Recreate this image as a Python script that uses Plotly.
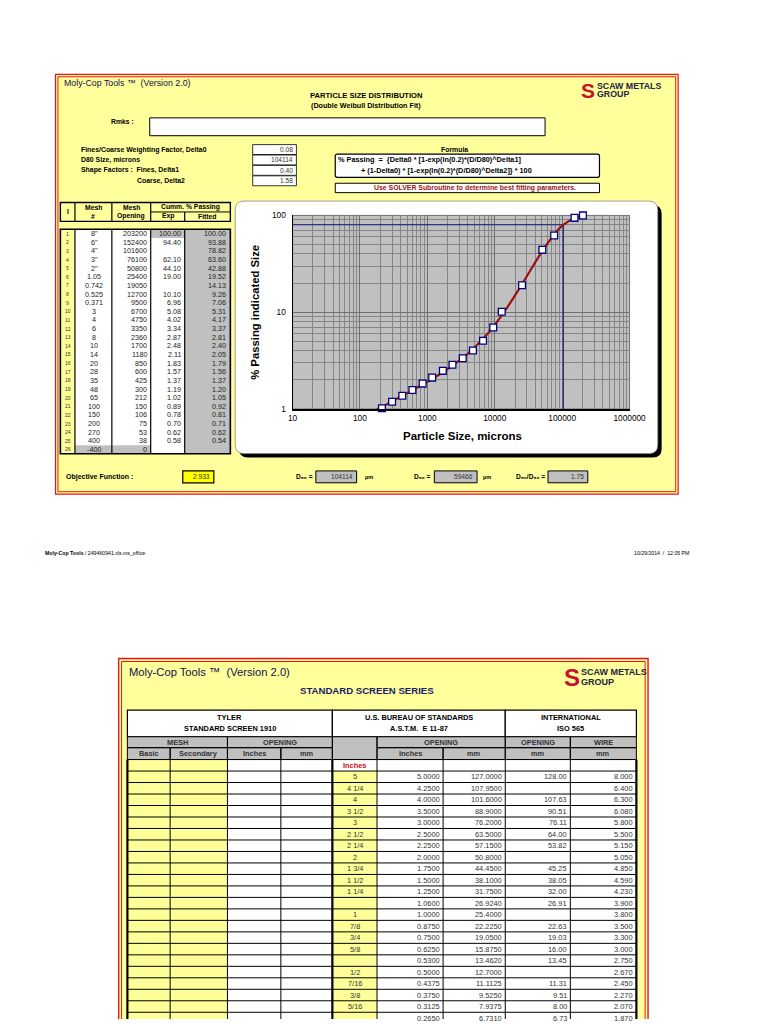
import plotly.graph_objects as go

W, H = 768, 1024
FONT = "Liberation Sans, Arial, sans-serif"
PANEL = "#FFFF9C"
YEL = "#FFFF99"
GRAY = "#C0C0C0"
RED = "#E8141B"
NAVY = "#000080"

# ---------------- data: particle size distribution ----------------
row_index = list(range(1, 27))
mesh_no = ['8"', '6"', '4"', '3"', '2"', '1.05', '0.742', '0.525', '0.371', '3', '4', '6', '8',
           '10', '14', '20', '28', '35', '48', '65', '100', '150', '200', '270', '400', '-400']
mesh_open = [203200, 152400, 101600, 76100, 50800, 25400, 19050, 12700, 9500, 6700, 4750, 3350,
             2360, 1700, 1180, 850, 600, 425, 300, 212, 150, 106, 75, 53, 38, 0]
exp_pass = [100.00, 94.40, None, 62.10, 44.10, 19.00, None, 10.10, 6.96, 5.08, 4.02, 3.34, 2.87,
            2.48, 2.11, 1.83, 1.57, 1.37, 1.19, 1.02, 0.89, 0.78, 0.70, 0.62, 0.58, None]
fitted_pass = [100.00, 93.88, 78.82, 63.60, 42.88, 19.52, 14.13, 9.26, 7.06, 5.31, 4.17, 3.37, 2.81,
               2.40, 2.05, 1.79, 1.56, 1.37, 1.20, 1.05, 0.92, 0.81, 0.71, 0.62, 0.54, None]

param_labels = ["Fines/Coarse Weighting Factor, Delta0", "D80 Size, microns",
                "Shape Factors :  Fines, Delta1", "Coarse, Delta2"]
param_values = ["0.08", "104114", "0.40", "1.58"]
delta0, d80, delta1, delta2 = 0.08, 104114, 0.40, 1.58
objective = "2.933"
d50 = 59466
d80_d50 = "1.75"

x_ticks = [10, 100, 1000, 10000, 100000, 1000000]
y_ticks = [1, 10, 100]

# ---------------- data: standard screen series ----------------
us_label = ["5", "4 1/4", "4", "3 1/2", "3", "2 1/2", "2 1/4", "2", "1 3/4", "1 1/2", "1 1/4", "",
            "1", "7/8", "3/4", "5/8", "", "1/2", "7/16", "3/8", "5/16", ""]
us_inches = ["5.0000", "4.2500", "4.0000", "3.5000", "3.0000", "2.5000", "2.2500", "2.0000", "1.7500",
             "1.5000", "1.2500", "1.0600", "1.0000", "0.8750", "0.7500", "0.6250", "0.5300", "0.5000",
             "0.4375", "0.3750", "0.3125", "0.2650"]
us_mm = ["127.0000", "107.9500", "101.6000", "88.9000", "76.2000", "63.5000", "57.1500", "50.8000",
         "44.4500", "38.1000", "31.7500", "26.9240", "25.4000", "22.2250", "19.0500", "15.8750",
         "13.4620", "12.7000", "11.1125", "9.5250", "7.9375", "6.7310"]
iso_open = ["128.00", "", "107.63", "90.51", "76.11", "64.00", "53.82", "", "45.25", "38.05", "32.00",
            "26.91", "", "22.63", "19.03", "16.00", "13.45", "", "11.31", "9.51", "8.00", "6.73"]
iso_wire = ["8.000", "6.400", "6.300", "6.080", "5.800", "5.500", "5.150", "5.050", "4.850", "4.590",
            "4.230", "3.900", "3.800", "3.500", "3.300", "3.000", "2.750", "2.670", "2.450", "2.270",
            "2.070", "1.870"]

shapes = []
annots = []


def rect(x0, y0, x1, y1, fill=None, line=None, lw=1.0):
    shapes.append(dict(type="rect", xref="x", yref="y", x0=x0, y0=y0, x1=x1, y1=y1, layer="below",
                       fillcolor=fill if fill else "rgba(0,0,0,0)",
                       line=dict(color=line if line else "rgba(0,0,0,0)", width=lw if line else 0)))


def hline(x0, x1, y, color="black", lw=1.0):
    shapes.append(dict(type="line", xref="x", yref="y", x0=x0, x1=x1, y0=y, y1=y, layer="below",
                       line=dict(color=color, width=lw)))


def vline(x, y0, y1, color="black", lw=1.0):
    shapes.append(dict(type="line", xref="x", yref="y", x0=x, x1=x, y0=y0, y1=y1, layer="below",
                       line=dict(color=color, width=lw)))


def rrect(x0, y0, x1, y1, r, fill, line=None, lw=1.0):
    p = (f"M {x0+r},{y0} L {x1-r},{y0} Q {x1},{y0} {x1},{y0+r} L {x1},{y1-r} Q {x1},{y1} {x1-r},{y1} "
         f"L {x0+r},{y1} Q {x0},{y1} {x0},{y1-r} L {x0},{y0+r} Q {x0},{y0} {x0+r},{y0} Z")
    shapes.append(dict(type="path", xref="x", yref="y", path=p, layer="below", fillcolor=fill,
                       line=dict(color=line if line else "rgba(0,0,0,0)", width=lw if line else 0)))


def text(x, y, s, size=7.0, color="black", anchor="center", bold=False, angle=0, family=FONT):
    if s is None or str(s) == "":
        return
    annots.append(dict(x=x, y=y, xref="x", yref="y", text=(f"<b>{s}</b>" if bold else s),
                       showarrow=False, xanchor=anchor, yanchor="middle", textangle=angle,
                       font=dict(size=size, color=color, family=family), borderpad=0))


# ======================= TOP PANEL =======================
rect(52, 70, 693, 494, fill=PANEL, line=RED, lw=1.2)
rect(54.5, 72.5, 690.5, 491.5, line=RED, lw=1.0)

text(60, 79, "Moly-Cop Tools \u2122  (Version 2.0)", size=8.8, color="#10104A", anchor="left")
text(372, 91, "PARTICLE SIZE DISTRIBUTION", size=7.6, bold=True)
text(372, 101, "(Double Weibull Distribution Fit)", size=7.2, bold=True)
text(600, 86, "S", size=21, color="#C8102E", bold=True)
text(608, 81.5, "SCAW METALS", size=8.8, color="#222244", bold=True, anchor="left")
text(608, 90, "GROUP", size=8.8, color="#222244", bold=True, anchor="left")

text(134, 118, "Rmks :", size=6.8, bold=True, anchor="right")
rect(149, 114, 556, 132, fill="white", line="black", lw=1)

p_y = [146, 156.5, 167, 177.5]
p_x = [77, 77, 77, 135]
for lab, val, yy, xx in zip(param_labels, param_values, p_y, p_x):
    text(xx, yy, lab, size=6.9, bold=True, anchor="left")
    rect(255, yy - 5, 300, yy + 5, fill="white", line="black", lw=0.8)
    text(298, yy, val, size=6.6, color="#333333", anchor="right")

text(463, 146, "Formula", size=6.9, bold=True)
rrect(340, 150.5, 612, 174, 2, "white", "black", 1.2)
text(342, 156.5, "% Passing  =  {Delta0 * [1-exp(ln(0.2)*(D/D80)^Delta1]", size=7.3, bold=True, anchor="left")
text(365, 167.5, "+ (1-Delta0) * [1-exp(ln(0.2)*(D/D80)^Delta2]} * 100", size=7.3, bold=True, anchor="left")
rect(340, 180, 612, 189.5, fill="white", line="black", lw=1)
text(484, 184.8, "Use SOLVER Subroutine to determine best fitting parameters.", size=6.9, color="#9A1414", bold=True)

# ---- left data table ----
LT = [57, 72, 110, 150, 185, 232]
HT0, HT1 = 199.5, 218.5
DT0, PITCH = 226.5, 8.72
n = len(row_index)
DT1 = DT0 + n * PITCH
# header
rect(LT[0], HT0, LT[-1], HT1, fill=PANEL, line="black", lw=1.4)
for xb in LT[1:-2]:
    vline(xb, HT0, HT1, lw=1.2)
hm = (HT0 + HT1) / 2
hline(LT[3], LT[5], hm, lw=1.0)
vline(LT[4], hm, HT1, lw=1.2)
text((LT[0] + LT[1]) / 2, hm, "I", size=6.6, bold=True)
text((LT[1] + LT[2]) / 2, hm - 4.6, "Mesh", size=6.8, bold=True)
text((LT[1] + LT[2]) / 2, hm + 4.3, "#", size=6.8, bold=True)
text((LT[2] + LT[3]) / 2, hm - 4.6, "Mesh", size=6.8, bold=True)
text((LT[2] + LT[3]) / 2, hm + 4.3, "Opening", size=6.8, bold=True)
text((LT[3] + LT[5]) / 2, hm - 4.6, "Cumm. % Passing", size=6.8, bold=True)
text((LT[3] + LT[4]) / 2, hm + 4.3, "Exp", size=6.8, bold=True)
text((LT[4] + LT[5]) / 2, hm + 4.3, "Fitted", size=6.8, bold=True)
# body fills
rect(LT[0], DT0, LT[1], DT1, fill=YEL)
rect(LT[1], DT0, LT[4], DT1, fill="white")
rect(LT[4], DT0, LT[5], DT1, fill=GRAY)
for i in range(n):
    y0 = DT0 + i * PITCH
    if i == 0 and exp_pass[i] is not None:
        rect(LT[3], y0, LT[4], y0 + PITCH, fill=GRAY)
    if mesh_open[i] == 0:
        rect(LT[1], y0, LT[3], y0 + PITCH, fill=GRAY)
for xb in LT[1:-1]:
    vline(xb, DT0, DT1, lw=1.2)
rect(LT[0], DT0, LT[-1], DT1, line="black", lw=1.6)
for i in range(n):
    yc = DT0 + (i + 0.5) * PITCH
    text((LT[0] + LT[1]) / 2, yc, str(row_index[i]), size=5.0, color="#333333")
    text((LT[1] + LT[2]) / 2 + 1, yc, mesh_no[i], size=7.2, color="#222222")
    text(LT[3] - 3, yc, str(mesh_open[i]), size=7.2, color="#222222", anchor="right")
    if exp_pass[i] is not None:
        text(LT[4] - 3, yc, f"{exp_pass[i]:.2f}", size=7.2, color="#222222", anchor="right")
    if fitted_pass[i] is not None:
        text(LT[5] - 3, yc, f"{fitted_pass[i]:.2f}", size=7.2, color="#222222", anchor="right")

# ---- objective row ----
OY = 476.5
text(62, OY, "Objective Function :", size=7.0, bold=True, anchor="left")
rect(183, OY - 6, 215, OY + 6, fill="#FFFF00", line="black", lw=1.2)
text(212, OY, objective, size=6.6, color="#333333", anchor="right")
text(318, OY, "D\u2088\u2080 =", size=6.6, bold=True, anchor="right")
rect(320, OY - 6, 362, OY + 6, fill=GRAY, line="black", lw=1)
text(359, OY, str(d80), size=6.6, color="#333333", anchor="right")
text(375, OY, "\u00b5m", size=5.6, bold=True)
text(440, OY, "D\u2085\u2080 =", size=6.6, bold=True, anchor="right")
rect(442, OY - 6, 486, OY + 6, fill=GRAY, line="black", lw=1)
text(483, OY, str(d50), size=6.6, color="#333333", anchor="right")
text(496, OY, "\u00b5m", size=5.6, bold=True)
text(557, OY, "D\u2088\u2080/D\u2085\u2080 =", size=6.6, bold=True, anchor="right")
rect(559, OY - 6, 600, OY + 6, fill=GRAY, line="black", lw=1)
text(597, OY, d80_d50, size=6.6, color="#333333", anchor="right")

# ---- chart frame ----
rrect(241, 202, 676, 457, 9, "black")
rrect(237, 198, 672, 453, 9, "white", "#888888", 0.8)
PX0, PX1, PY0, PY1 = 296, 643, 212.5, 408
rect(PX0, PY0, PX1, PY1, fill=GRAY, line="#555555", lw=0.8)
text(258, (PY0 + PY1) / 2, "% Passing indicated Size", size=11.3, bold=True, angle=-90)
text((PX0 + PX1) / 2 + 2, 435, "Particle Size, microns", size=11.5, bold=True)

# ---- footer ----
text(40, 553, "<b>Moly-Cop Tools</b> / 249460941.xls.ms_office", size=5.2, anchor="left")
text(705, 553, "10/29/2014  /  12:05 PM", size=5.2, anchor="right")

# ======================= BOTTOM PANEL =======================
rect(117, 660, 662, 1040, fill=PANEL, line=RED, lw=1.4)
rect(120, 663, 659, 1040, line=RED, lw=1.0)
text(127, 674, "Moly-Cop Tools \u2122  (Version 2.0)", size=11.2, color="#10104A", anchor="left")
text(584, 679, "S", size=24, color="#C8102E", bold=True)
text(592, 673.5, "SCAW METALS", size=9.0, color="#222244", bold=True, anchor="left")
text(592, 684, "GROUP", size=9.0, color="#222244", bold=True, anchor="left")
text(373, 692.5, "STANDARD SCREEN SERIES", size=9.6, color="#1B1B6B", bold=True)

BC = [126, 170, 229, 284, 337, 383, 451, 515, 582, 650]
R0, R1, R2, R3 = 712, 739, 750, 762
BP = 11.6
# header row 1
rect(BC[0], R0, BC[4], R1, fill="white", line="black", lw=1.2)
rect(BC[4], R0, BC[7], R1, fill="white", line="black", lw=1.2)
rect(BC[7], R0, BC[9], R1, fill="white", line="black", lw=1.2)
HS = 7.4
text((BC[0] + BC[4]) / 2, 719.5, "TYLER", size=HS, bold=True)
text((BC[0] + BC[4]) / 2, 731, "STANDARD SCREEN 1910", size=HS, bold=True)
text((BC[4] + BC[7]) / 2, 719.5, "U.S. BUREAU OF STANDARDS", size=HS, bold=True)
text((BC[4] + BC[7]) / 2, 731, "A.S.T.M.  E 11-87", size=HS, bold=True)
text((BC[7] + BC[9]) / 2, 719.5, "INTERNATIONAL", size=HS, bold=True)
text((BC[7] + BC[9]) / 2, 731, "ISO 565", size=HS, bold=True)
# header rows 2-3
rect(BC[0], R1, BC[9], R3, fill=GRAY)
for a, b in [(0, 2), (2, 4), (5, 7), (7, 8), (8, 9)]:
    rect(BC[a], R1, BC[b], R2, line="black", lw=1)
rect(BC[4], R1, BC[5], R3, line="black", lw=1)
for k in [0, 1, 2, 3, 5, 6, 7, 8]:
    rect(BC[k], R2, BC[k + 1], R3, line="black", lw=1)
h2 = (R1 + R2) / 2
h3 = (R2 + R3) / 2
text((BC[0] + BC[2]) / 2, h2, "MESH", size=HS, color="#333333", bold=True)
text((BC[2] + BC[4]) / 2, h2, "OPENING", size=HS, color="#333333", bold=True)
text((BC[5] + BC[7]) / 2, h2, "OPENING", size=HS, color="#333333", bold=True)
text((BC[7] + BC[8]) / 2, h2, "OPENING", size=HS, color="#333333", bold=True)
text((BC[8] + BC[9]) / 2, h2, "WIRE", size=HS, color="#333333", bold=True)
for k, s in zip([0, 1, 2, 3, 5, 6, 7, 8],
                ["Basic", "Secondary", "Inches", "mm", "Inches", "mm", "mm", "mm"]):
    text((BC[k] + BC[k + 1]) / 2, h3, s, size=HS, color="#333333", bold=True)

# data rows (first row = "Inches" caption row)
nrows = len(us_label) + 1
BOT = R3 + nrows * BP
rect(BC[0], R3, BC[2], BOT, fill=YEL)
rect(BC[2], R3, BC[4], BOT, fill="white")
rect(BC[4], R3 + BP, BC[5], BOT, fill=YEL)
rect(BC[4], R3, BC[5], R3 + BP, fill="white")
rect(BC[5], R3, BC[9], BOT, fill="white")
for r in range(nrows + 1):
    hline(BC[0], BC[9], R3 + r * BP, lw=1.0)
for k, xb in enumerate(BC):
    vline(xb, R3, BOT, lw=(2.2 if k in (0, 4, 9) else 1.0))
text((BC[4] + BC[5]) / 2, R3 + BP / 2, "Inches", size=7.4, color="#CC1111", bold=True)
for i in range(len(us_label)):
    yc = R3 + (i + 1.5) * BP
    text((BC[4] + BC[5]) / 2, yc, us_label[i], size=7.4, color="#333333")
    text(BC[6] - 2, yc, us_inches[i], size=7.4, color="#333333", anchor="right")
    text(BC[7] - 2, yc, us_mm[i], size=7.4, color="#333333", anchor="right")
    text(BC[8] - 2, yc, iso_open[i], size=7.4, color="#333333", anchor="right")
    text(BC[9] - 2, yc, iso_wire[i], size=7.4, color="#333333", anchor="right")

# ======================= FIGURE =======================
fig = go.Figure()

# canvas subplot (pixel space) - keeps decoration layer below the chart
fig.add_trace(go.Scatter(x=[0], y=[0], mode="markers", marker=dict(opacity=0), hoverinfo="skip",
                         showlegend=False, xaxis="x", yaxis="y"))

# D80 reference lines
fig.add_trace(go.Scatter(x=[x_ticks[0], d80, d80], y=[80, 80, y_ticks[0]], mode="lines",
                         line=dict(color="#1A1A8C", width=1.1), xaxis="x2", yaxis="y2",
                         showlegend=False, hoverinfo="skip"))
# fitted curve
fx = [m for m, f in zip(mesh_open, fitted_pass) if f is not None and m > 0]
fy = [f for m, f in zip(mesh_open, fitted_pass) if f is not None and m > 0]
fig.add_trace(go.Scatter(x=fx, y=fy, mode="lines", line=dict(color="#9B1010", width=2.2, shape="spline"),
                         xaxis="x2", yaxis="y2", showlegend=False, name="Fitted"))
# experimental points (those inside the plotted range)
ex = [m for m, e in zip(mesh_open, exp_pass) if e is not None and y_ticks[0] <= e <= y_ticks[-1]]
ey = [e for e in exp_pass if e is not None and y_ticks[0] <= e <= y_ticks[-1]]
fig.add_trace(go.Scatter(x=ex, y=ey, mode="markers", cliponaxis=False,
                         marker=dict(symbol="square", size=6.8, color="white",
                                     line=dict(color=NAVY, width=1.3)),
                         xaxis="x2", yaxis="y2", showlegend=False, name="Exp"))

minor_x = [m * 10 ** e for e in range(1, 6) for m in range(2, 10)]
minor_y = [m * 10 ** e for e in range(0, 2) for m in range(2, 10)]

fig.update_layout(
    width=W, height=H, margin=dict(l=0, r=0, t=0, b=0),
    paper_bgcolor="white", plot_bgcolor="rgba(0,0,0,0)",
    showlegend=False,
    xaxis=dict(domain=[0, 1], range=[0, W], visible=False, fixedrange=True),
    yaxis=dict(domain=[0, 1], range=[H, 0], visible=False, fixedrange=True),
    xaxis2=dict(domain=[PX0 / W, PX1 / W], anchor="y2", type="log", range=[1, 6],
                tickvals=x_ticks, ticktext=[str(v) for v in x_ticks], ticks="",
                tickfont=dict(size=8.3, family=FONT, color="black"),
                showgrid=True, gridcolor="#707070", gridwidth=1,
                minor=dict(tickvals=minor_x, showgrid=True, gridcolor="#858585", gridwidth=0.7, ticks=""),
                showline=True, linecolor="black", linewidth=1.5, zeroline=False, fixedrange=True),
    yaxis2=dict(domain=[1 - PY1 / H, 1 - PY0 / H], anchor="x2", type="log", range=[0, 2],
                tickvals=y_ticks, ticktext=[str(v) for v in y_ticks], ticks="",
                tickfont=dict(size=8.3, family=FONT, color="black"), ticklabelstandoff=4,
                showgrid=True, gridcolor="#707070", gridwidth=1,
                minor=dict(tickvals=minor_y, showgrid=True, gridcolor="#858585", gridwidth=0.7, ticks=""),
                showline=True, linecolor="black", linewidth=1.2, zeroline=False, fixedrange=True),
    shapes=shapes,
    annotations=annots,
)

fig.write_html("out.html", config={"displayModeBar": False},
               post_script="document.body.style.margin='0';document.body.style.overflow='hidden';")
